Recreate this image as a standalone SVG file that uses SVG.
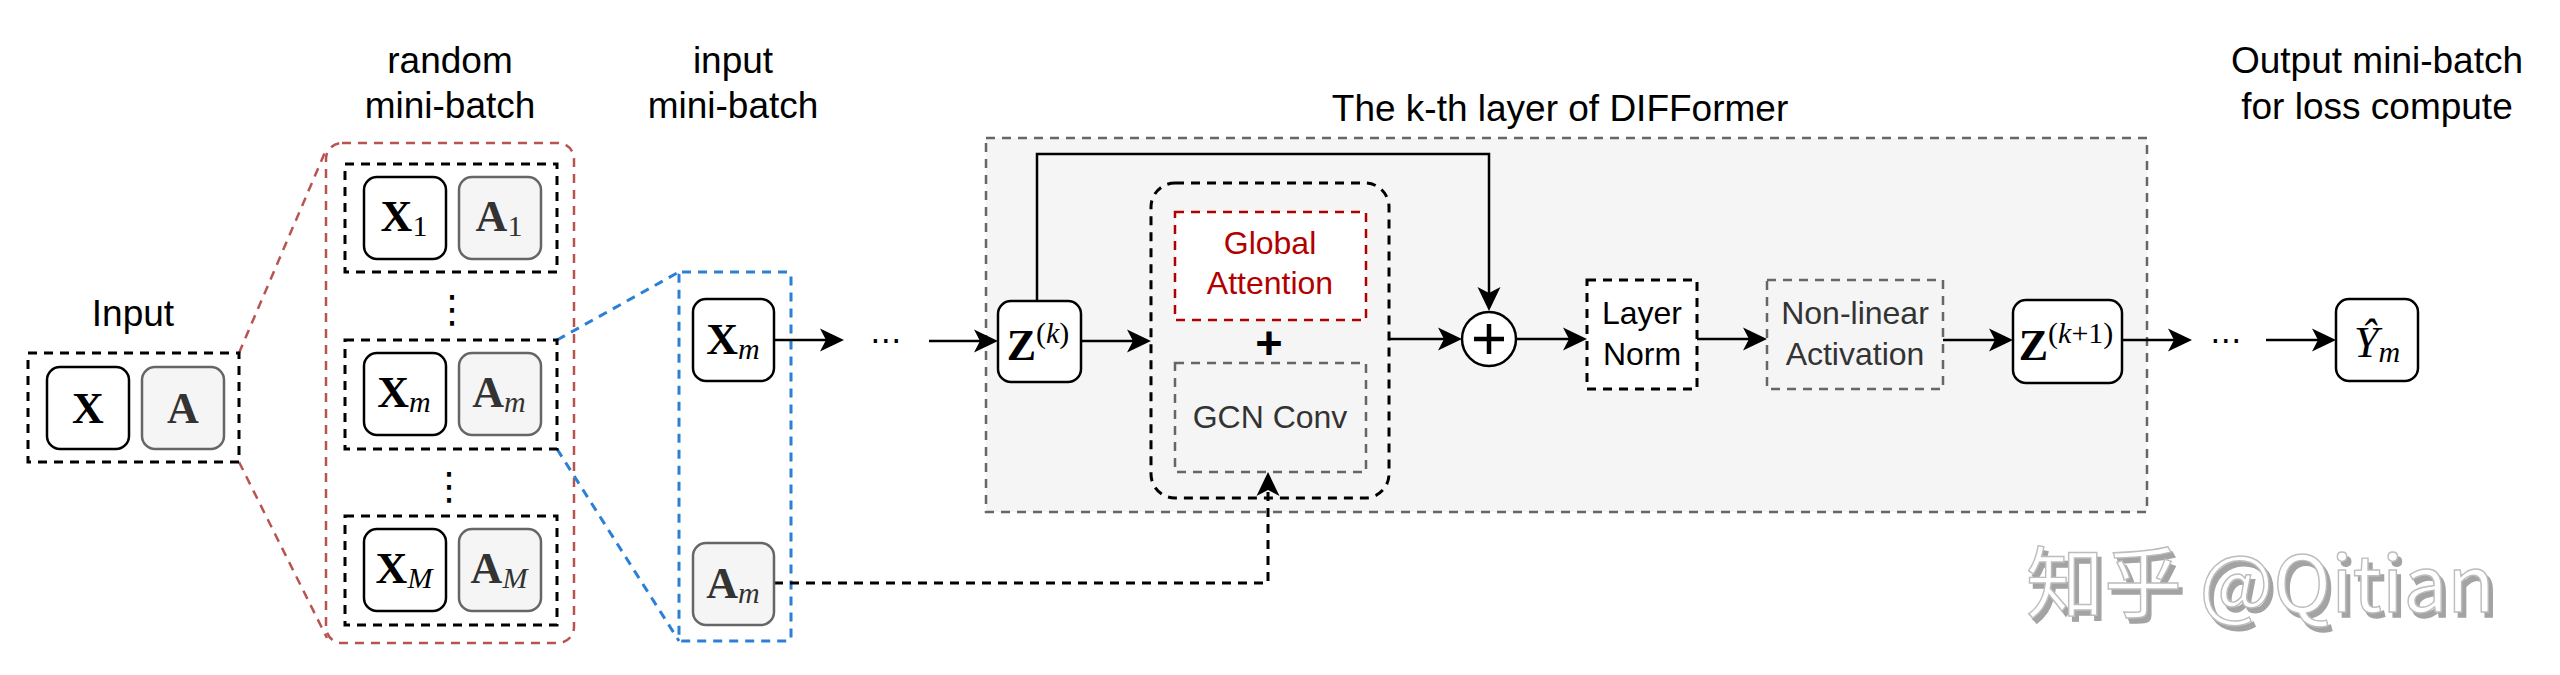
<svg xmlns="http://www.w3.org/2000/svg" width="2560" height="675" viewBox="0 0 2560 675">
<style>
.lbl{font-family:"Liberation Sans",Arial,sans-serif;font-size:37px;fill:#000;text-anchor:middle}
.in{font-family:"Liberation Sans",Arial,sans-serif;font-size:32px;text-anchor:middle}
.plus{font-family:"Liberation Sans",Arial,sans-serif;font-size:47px;font-weight:bold;text-anchor:middle;fill:#000}
.math{font-family:"Liberation Serif","Times New Roman",serif;font-size:44px;text-anchor:middle;fill:#000}
.ma{fill:#333}
.b{font-weight:bold}
.it{font-style:italic}
.sub{font-size:30px}
.nx{fill:#fff;stroke:#000;stroke-width:2.5}
.na{fill:#f5f5f5;stroke:#666;stroke-width:2.5}
.dk{fill:none;stroke:#000;stroke-width:3;stroke-dasharray:9 7}
.dg{fill:none;stroke:#666;stroke-width:2.5;stroke-dasharray:9 7}
.conn{fill:none;stroke:#000;stroke-width:2.5}
.dots{font-family:"DejaVu Sans",sans-serif;fill:#000;text-anchor:middle}
</style>
<defs>
<marker id="arr" markerUnits="userSpaceOnUse" markerWidth="24" markerHeight="24" viewBox="0 0 24 24" refX="20" refY="12" orient="auto">
<path d="M0,0.5 L24,12 L0,23.5 L6,12 Z" fill="#000"/>
</marker>
<filter id="sh" x="-5%" y="-30%" width="110%" height="160%">
<feDropShadow dx="4" dy="5" stdDeviation="0.6" flood-color="#9e9e9e" flood-opacity="0.95"/>
</filter>
</defs>
<rect width="2560" height="675" fill="#fff"/>

<!-- labels -->
<g id="labels">
<text class="lbl" x="133" y="326">Input</text>
<text class="lbl" x="450" y="73">random</text>
<text class="lbl" x="450" y="118">mini-batch</text>
<text class="lbl" x="733" y="73">input</text>
<text class="lbl" x="733" y="118">mini-batch</text>
<text class="lbl" x="1560" y="121">The k-th layer of DIFFormer</text>
<text class="lbl" x="2377" y="73">Output mini-batch</text>
<text class="lbl" x="2377" y="119">for loss compute</text>
</g>

<!-- containers -->
<g id="layer-k">
<rect x="986" y="138" width="1161" height="374" fill="#f5f5f5" stroke="#666" stroke-width="2.5" stroke-dasharray="9 7"/>
</g>
<g id="random-minibatch">
<rect x="326" y="143" width="248" height="500" rx="16" fill="none" stroke="#b85450" stroke-width="2.5" stroke-dasharray="9 7"/>
</g>
<g id="input-minibatch">
<rect x="679" y="272" width="112" height="369" rx="3" fill="none" stroke="#2b80d6" stroke-width="3" stroke-dasharray="9 7"/>
</g>

<!-- connectors -->
<g id="connectors">
<path d="M239,353 L326,150 M239,462 L327,638" fill="none" stroke="#b85450" stroke-width="2.5" stroke-dasharray="9 7"/>
<path d="M557,340 L679,272 M557,449 L679,641" fill="none" stroke="#2b80d6" stroke-width="3" stroke-dasharray="9 7"/>
<path class="conn" d="M774,340 H840" marker-end="url(#arr)"/>
<path class="conn" d="M929,341 H994" marker-end="url(#arr)"/>
<path class="conn" d="M1081,341 H1147" marker-end="url(#arr)"/>
<path class="conn" d="M1037,301 V154 H1489 V307" marker-end="url(#arr)"/>
<path class="conn" d="M1389,339 H1458" marker-end="url(#arr)"/>
<path class="conn" d="M1516,339 H1583" marker-end="url(#arr)"/>
<path class="conn" d="M1697,339 H1763" marker-end="url(#arr)"/>
<path class="conn" d="M1943,340 H2009" marker-end="url(#arr)"/>
<path class="conn" d="M2122,340 H2188" marker-end="url(#arr)"/>
<path class="conn" d="M2266,340 H2332" marker-end="url(#arr)"/>
<path d="M774,583 H1268 V476" fill="none" stroke="#000" stroke-width="3" stroke-dasharray="9 7" marker-end="url(#arr)"/>
<text class="dots" x="886" y="351" font-size="32">⋯</text>
<text class="dots" x="2226" y="351" font-size="32">⋯</text>
</g>

<!-- input -->
<g id="input">
<rect x="28" y="353" width="211" height="109" class="dk"/>
</g>
<g id="node-X">
<rect x="47" y="367" width="82" height="82" rx="13" class="nx"/>
<text class="math b" x="88" y="423">X</text>
</g>
<g id="node-A">
<rect x="142" y="367" width="82" height="82" rx="13" class="na"/>
<text class="math b ma" x="183" y="423">A</text>
</g>

<!-- batches -->
<g id="batch-1">
<rect x="345" y="164" width="212" height="108" class="dk"/>
</g>
<g id="node-X1">
<rect x="364" y="177" width="82" height="82" rx="13" class="nx"/>
<text class="math" x="404" y="231"><tspan class="b">X</tspan><tspan class="sub" dy="5">1</tspan></text>
</g>
<g id="node-A1">
<rect x="459" y="177" width="82" height="82" rx="13" class="na"/>
<text class="math ma" x="499" y="231"><tspan class="b">A</tspan><tspan class="sub" dy="5">1</tspan></text>
</g>
<text class="dots" x="452" y="322" font-size="38">⋮</text>

<g id="batch-m">
<rect x="345" y="340" width="212" height="109" class="dk"/>
</g>
<g id="node-Xm-b">
<rect x="364" y="353" width="82" height="82" rx="13" class="nx"/>
<text class="math" x="404" y="407"><tspan class="b">X</tspan><tspan class="sub it" dy="5">m</tspan></text>
</g>
<g id="node-Am-b">
<rect x="459" y="353" width="82" height="82" rx="13" class="na"/>
<text class="math ma" x="499" y="407"><tspan class="b">A</tspan><tspan class="sub it" dy="5">m</tspan></text>
</g>
<text class="dots" x="449" y="499" font-size="38">⋮</text>

<g id="batch-M">
<rect x="345" y="516" width="212" height="109" class="dk"/>
</g>
<g id="node-XM">
<rect x="364" y="529" width="82" height="82" rx="13" class="nx"/>
<text class="math" x="404" y="583"><tspan class="b">X</tspan><tspan class="sub it" dy="5">M</tspan></text>
</g>
<g id="node-AM">
<rect x="459" y="529" width="82" height="82" rx="13" class="na"/>
<text class="math ma" x="499" y="583"><tspan class="b">A</tspan><tspan class="sub it" dy="5">M</tspan></text>
</g>

<!-- input mini-batch -->
<g id="node-Xm">
<rect x="693" y="299" width="81" height="82" rx="13" class="nx"/>
<text class="math" x="733" y="354"><tspan class="b">X</tspan><tspan class="sub it" dy="5">m</tspan></text>
</g>
<g id="node-Am">
<rect x="693" y="543" width="81" height="82" rx="13" class="na"/>
<text class="math ma" x="733" y="598"><tspan class="b">A</tspan><tspan class="sub it" dy="5">m</tspan></text>
</g>

<!-- layer -->
<g id="node-Zk">
<rect x="998" y="301" width="83" height="81" rx="13" class="nx"/>
<text class="math" x="1038" y="360"><tspan class="b">Z</tspan><tspan class="sub" dy="-17">(</tspan><tspan class="sub it">k</tspan><tspan class="sub">)</tspan></text>
</g>
<g id="block">
<rect x="1151" y="183" width="238" height="315" rx="24" class="dk"/>
</g>
<g id="global-attention">
<rect x="1175" y="212" width="191" height="108" fill="#fff" stroke="#b20000" stroke-width="2.5" stroke-dasharray="9 7"/>
<text class="in" x="1270" y="254" fill="#b20000">Global</text>
<text class="in" x="1270" y="294" fill="#b20000">Attention</text>
</g>
<text class="plus" x="1269" y="359">+</text>
<g id="gcn-conv">
<rect x="1175" y="363" width="191" height="109" class="dg"/>
<text class="in" x="1270" y="428" fill="#333">GCN Conv</text>
</g>
<g id="sum">
<circle cx="1489" cy="339" r="27" fill="#fff" stroke="#000" stroke-width="2.5"/>
<path d="M1474,339 H1504 M1489,324 V354" stroke="#000" stroke-width="4.5"/>
</g>
<g id="layer-norm">
<rect x="1587" y="280" width="110" height="109" fill="#fff" stroke="#000" stroke-width="3" stroke-dasharray="9 7"/>
<text class="in" x="1642" y="324" fill="#000">Layer</text>
<text class="in" x="1642" y="365" fill="#000">Norm</text>
</g>
<g id="non-linear">
<rect x="1767" y="280" width="176" height="109" class="dg"/>
<text class="in" x="1855" y="324" fill="#333">Non-linear</text>
<text class="in" x="1855" y="365" fill="#333">Activation</text>
</g>
<g id="node-Zk1">
<rect x="2013" y="300" width="109" height="83" rx="13" class="nx"/>
<text class="math" x="2066" y="360"><tspan class="b">Z</tspan><tspan class="sub" dy="-17">(</tspan><tspan class="sub it">k</tspan><tspan class="sub">+1)</tspan></text>
</g>
<g id="node-Y">
<rect x="2336" y="299" width="82" height="82" rx="13" class="nx"/>
<text class="math" x="2377" y="357"><tspan class="it">Ŷ</tspan><tspan class="sub it" dy="5">m</tspan></text>
</g>

<g id="watermark">
<text x="2026" y="612" font-family="'Noto Sans CJK SC','Noto Sans',sans-serif" font-size="78" fill="#fff" stroke="#bdbdbd" stroke-width="1.4" filter="url(#sh)">知乎 @Qitian</text>
</g>
</svg>
